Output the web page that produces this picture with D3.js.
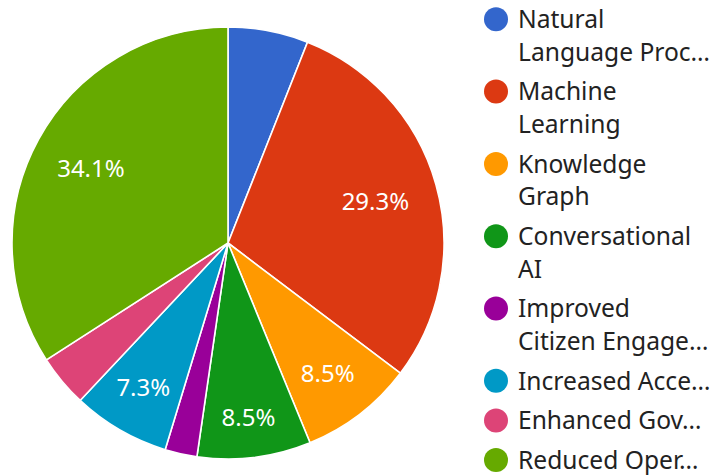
<!DOCTYPE html>
<html>
<head>
<meta charset="utf-8">
<script src="https://cdn.jsdelivr.net/npm/d3@7"></script>
<style>
  html, body { margin: 0; padding: 0; background: #ffffff; }
  svg { display: block; font-family: "Noto Sans", sans-serif; }
</style>
</head>
<body>
<svg id="chart" width="712" height="475"></svg>
<script>
const categories = [
  "Natural Language Proc…",
  "Machine Learning",
  "Knowledge Graph",
  "Conversational AI",
  "Improved Citizen Engage…",
  "Increased Acce…",
  "Enhanced Gov…",
  "Reduced Oper…"
];
const legendLines = [
  ["Natural", "Language Proc…"],
  ["Machine", "Learning"],
  ["Knowledge", "Graph"],
  ["Conversational", "AI"],
  ["Improved", "Citizen Engage…"],
  ["Increased Acce…"],
  ["Enhanced Gov…"],
  ["Reduced Oper…"]
];
const values = [6.0, 29.3, 8.5, 8.5, 2.4, 7.3, 3.9, 34.1];
const colors = ["#3366cc", "#dc3912", "#ff9900", "#109618", "#990099", "#0099c6", "#dd4477", "#66aa00"];

const svg = d3.select("#chart");
const cx = 228, cy = 243, R = 216;
const labelFont = 24;

const pie = d3.pie().sort(null).value(d => d)(values);
const arc = d3.arc().innerRadius(0).outerRadius(R);
const total = d3.sum(values);

const g = svg.append("g").attr("transform", `translate(${cx},${cy})`);
g.selectAll("path").data(pie).join("path")
  .attr("d", arc)
  .attr("fill", (d, i) => colors[i])
  .attr("stroke", "#ffffff")
  .attr("stroke-width", 1.6);

// slice labels: place so that the text box's outer corner sits at ~0.875R
const D = R * 0.875;
const capH = labelFont * 0.72;
g.selectAll("text").data(pie.filter(d => d.value / total >= 0.07)).join("text")
  .attr("text-anchor", "middle")
  .attr("fill", "#ffffff")
  .attr("font-size", labelFont)
  .text(d => (d.value / total * 100).toFixed(1) + "%")
  .each(function(d) {
    const w = this.getComputedTextLength();
    const a = (d.startAngle + d.endAngle) / 2;
    const sx = Math.abs(Math.sin(a)), sy = Math.abs(Math.cos(a));
    const hw = w / 2, hh = capH / 2;
    const b = sx * hw + sy * hh;
    const c = hw * hw + hh * hh - D * D;
    const r = -b + Math.sqrt(b * b - c);
    const x = r * Math.sin(a), y = -r * Math.cos(a);
    d3.select(this).attr("x", x - 1).attr("y", y + hh);
  });

// legend
const lg = svg.append("g");
const lineH = 32.7, gap = 6.9;
let y = 19.3;
legendLines.forEach((lines, i) => {
  const item = lg.append("g").attr("transform", `translate(0,${y})`);
  item.append("circle").attr("cx", 496).attr("cy", 0).attr("r", 12).attr("fill", colors[i]);
  lines.forEach((t, j) => {
    item.append("text")
      .attr("x", 518).attr("y", j * lineH + 8.8)
      .attr("fill", "#222222")
      .attr("font-size", 24.6)
      .text(t);
  });
  y += lines.length * lineH + gap;
});
</script>
</body>
</html>
